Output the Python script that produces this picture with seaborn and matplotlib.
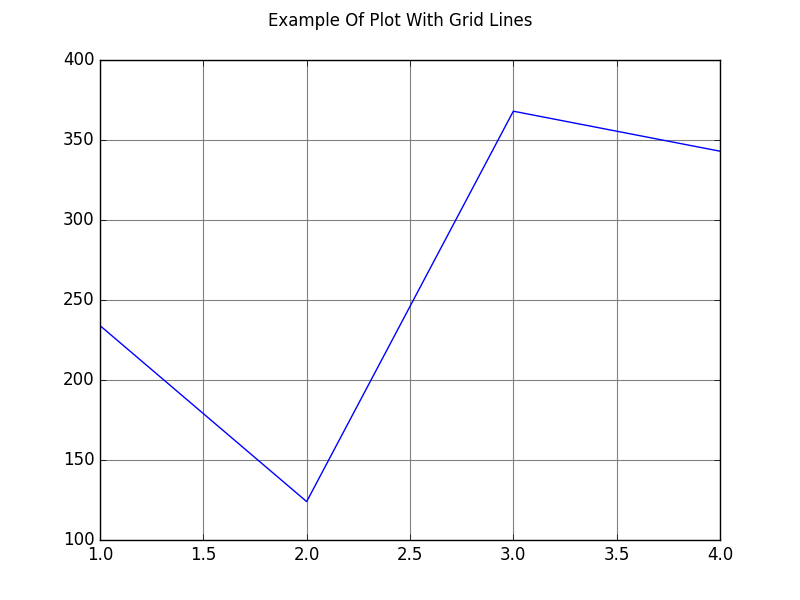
import matplotlib
matplotlib.use('Agg')
import matplotlib.pyplot as plt
import seaborn as sns
import pandas as pd

# values
x_vals = [1, 2, 3, 4]
y_vals = [234, 124, 368, 343]

df = pd.DataFrame({'x': x_vals, 'y': y_vals})

plt.style.use('classic')
fig = plt.figure(figsize=(8, 6), dpi=100)
fig.patch.set_facecolor('white')
ax = fig.add_subplot(111)
fig.subplots_adjust(left=0.125, right=0.9, bottom=0.1, top=0.9)

sns.lineplot(data=df, x='x', y='y', ax=ax, color='blue', linewidth=1)

ax.set_xlim(1, 4)
ax.set_ylim(100, 400)
ax.set_xlabel('')
ax.set_ylabel('')
ax.grid(True, color='gray', linestyle='-', linewidth=0.8)
ax.set_axisbelow(True)
fig.suptitle('Example Of Plot With Grid Lines', fontsize=12)

fig.savefig('out.png', dpi=100, facecolor='white')
